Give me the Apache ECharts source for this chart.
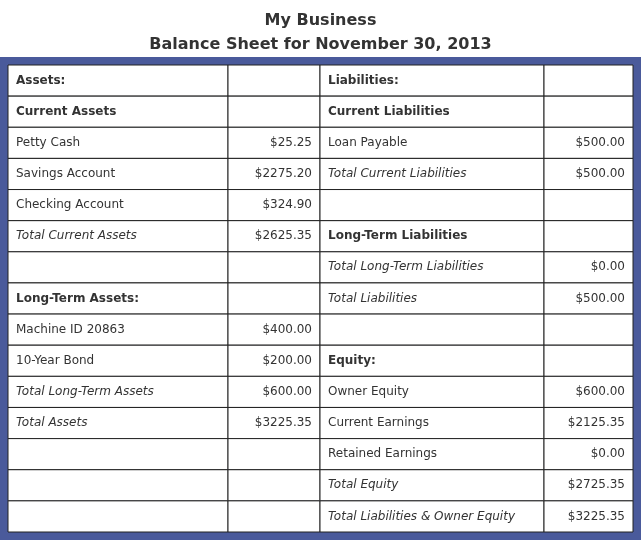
<!DOCTYPE html>
<html><head><meta charset="utf-8">
<script src="https://cdn.jsdelivr.net/npm/echarts@6/dist/echarts.min.js"></script>
<style>html,body{margin:0;padding:0;background:#fff}#c{width:641px;height:540px}</style>
</head><body><div id="c"></div>
<script>
const leftLabels = ["Assets:","Current Assets","Petty Cash","Savings Account","Checking Account","Total Current Assets","","Long-Term Assets:","Machine ID 20863","10-Year Bond","Total Long-Term Assets","Total Assets","","",""];
const leftValues = ["","","$25.25","$2275.20","$324.90","$2625.35","","","$400.00","$200.00","$600.00","$3225.35","","",""];
const leftStyle  = ["b","b","n","n","n","i","n","b","n","n","i","i","n","n","n"];
const rightLabels = ["Liabilities:","Current Liabilities","Loan Payable","Total Current Liabilities","","Long-Term Liabilities","Total Long-Term Liabilities","Total Liabilities","","Equity:","Owner Equity","Current Earnings","Retained Earnings","Total Equity","Total Liabilities & Owner Equity"];
const rightValues = ["","","$500.00","$500.00","","","$0.00","$500.00","","","$600.00","$2125.35","$0.00","$2725.35","$3225.35"];
const rightStyle  = ["b","b","n","i","n","b","i","i","n","b","n","n","n","i","i"];
const colWidths = [220,92,224,89];
const colEdges = colWidths.reduce((a,w)=>{a.push(a[a.length-1]+w);return a;},[0]);
const data = [];
for (let r=0;r<leftLabels.length;r++){
  data.push([0,r,leftLabels[r],leftStyle[r],'left']);
  data.push([1,r,leftValues[r],'n','right']);
  data.push([2,r,rightLabels[r],rightStyle[r],'left']);
  data.push([3,r,rightValues[r],'n','right']);
}
const chart = echarts.init(document.getElementById('c'));
chart.setOption({
  animation:false,
  title:{text:"My Business\nBalance Sheet for November 30, 2013",left:'center',top:4,
    textStyle:{fontFamily:'DejaVu Sans',fontSize:16,fontWeight:'bold',color:'#333',lineHeight:24}},
  graphic:[{type:'rect',shape:{x:0,y:57,width:641,height:483},style:{fill:'#4a5a9b'},z:-10}],
  grid:{left:8,right:8,top:65,bottom:8},
  xAxis:{type:'value',min:0,max:colEdges[4],show:false},
  yAxis:{type:'value',min:0,max:leftLabels.length,inverse:true,show:false},
  series:[{type:'custom',data:data,
    renderItem:function(params,api){
      const c=api.value(0), r=api.value(1);
      const p0=api.coord([colEdges[c],r]), p1=api.coord([colEdges[c+1],r+1]);
      const item=data[params.dataIndex];
      const st=item[3], al=item[4];
      return {type:'group',children:[
        {type:'rect',shape:{x:p0[0],y:p0[1],width:p1[0]-p0[0],height:p1[1]-p0[1]},
          style:{fill:'#fff',stroke:'#222',lineWidth:1}},
        {type:'text',x:al==='left'?p0[0]+8:p1[0]-8,y:(p0[1]+p1[1])/2,
          style:{text:item[2],align:al,verticalAlign:'middle',fill:'#333',
            font:(st==='i'?'italic ':'')+(st==='b'?'bold ':'')+'12px "DejaVu Sans"'}}
      ]};
    }}]
});
</script></body></html>
